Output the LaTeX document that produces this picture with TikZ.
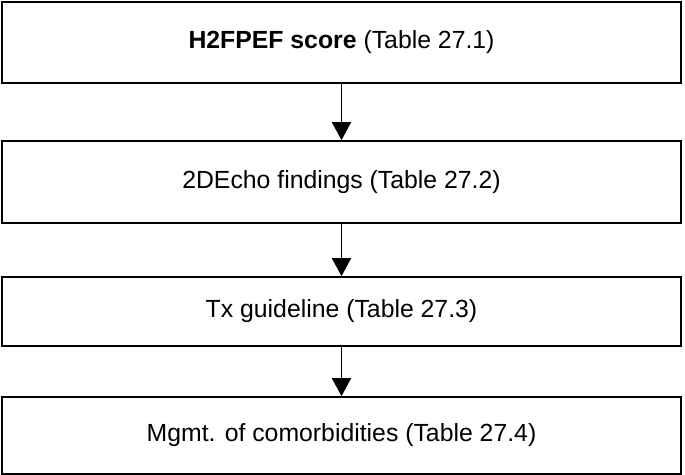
\documentclass[tikz,border=0pt]{standalone}
\usepackage{fontspec}
\setmainfont{Liberation Sans}
\usetikzlibrary{arrows.meta}
\tikzset{
  stagebox/.style={draw, line width=0.8pt, inner sep=0pt,
    minimum width=339.5pt, font=\fontsize{12.4}{14}\selectfont},
  flow/.style={line width=0.75pt, -{Triangle[width=9.5pt,length=9pt]}}
}
\begin{document}
\begin{tikzpicture}[x=0.5pt, y=-0.5pt]
      \useasboundingbox (0, 0) rectangle (685, 475);
      \node [stagebox, minimum height=40.5pt] (score) at (341.5, 42.5)
        {\textbf{H2FPEF score} (Table 27.1)};
      \node [stagebox, minimum height=41pt] (echo) at (341.5, 182)
        {2DEcho findings (Table 27.2)};
      \node [stagebox, minimum height=34.5pt] (tx) at (341.5, 311.5)
        {Tx guideline (Table 27.3)};
      \node [stagebox, minimum height=38.5pt] (mgmt) at (341.5, 435.5)
        {Mgmt. of comorbidities (Table 27.4)};
      \draw [flow] (score) -- (echo);
      \draw [flow] (echo) -- (tx);
      \draw [flow] (tx) -- (mgmt);
    \end{tikzpicture}
\end{document}
